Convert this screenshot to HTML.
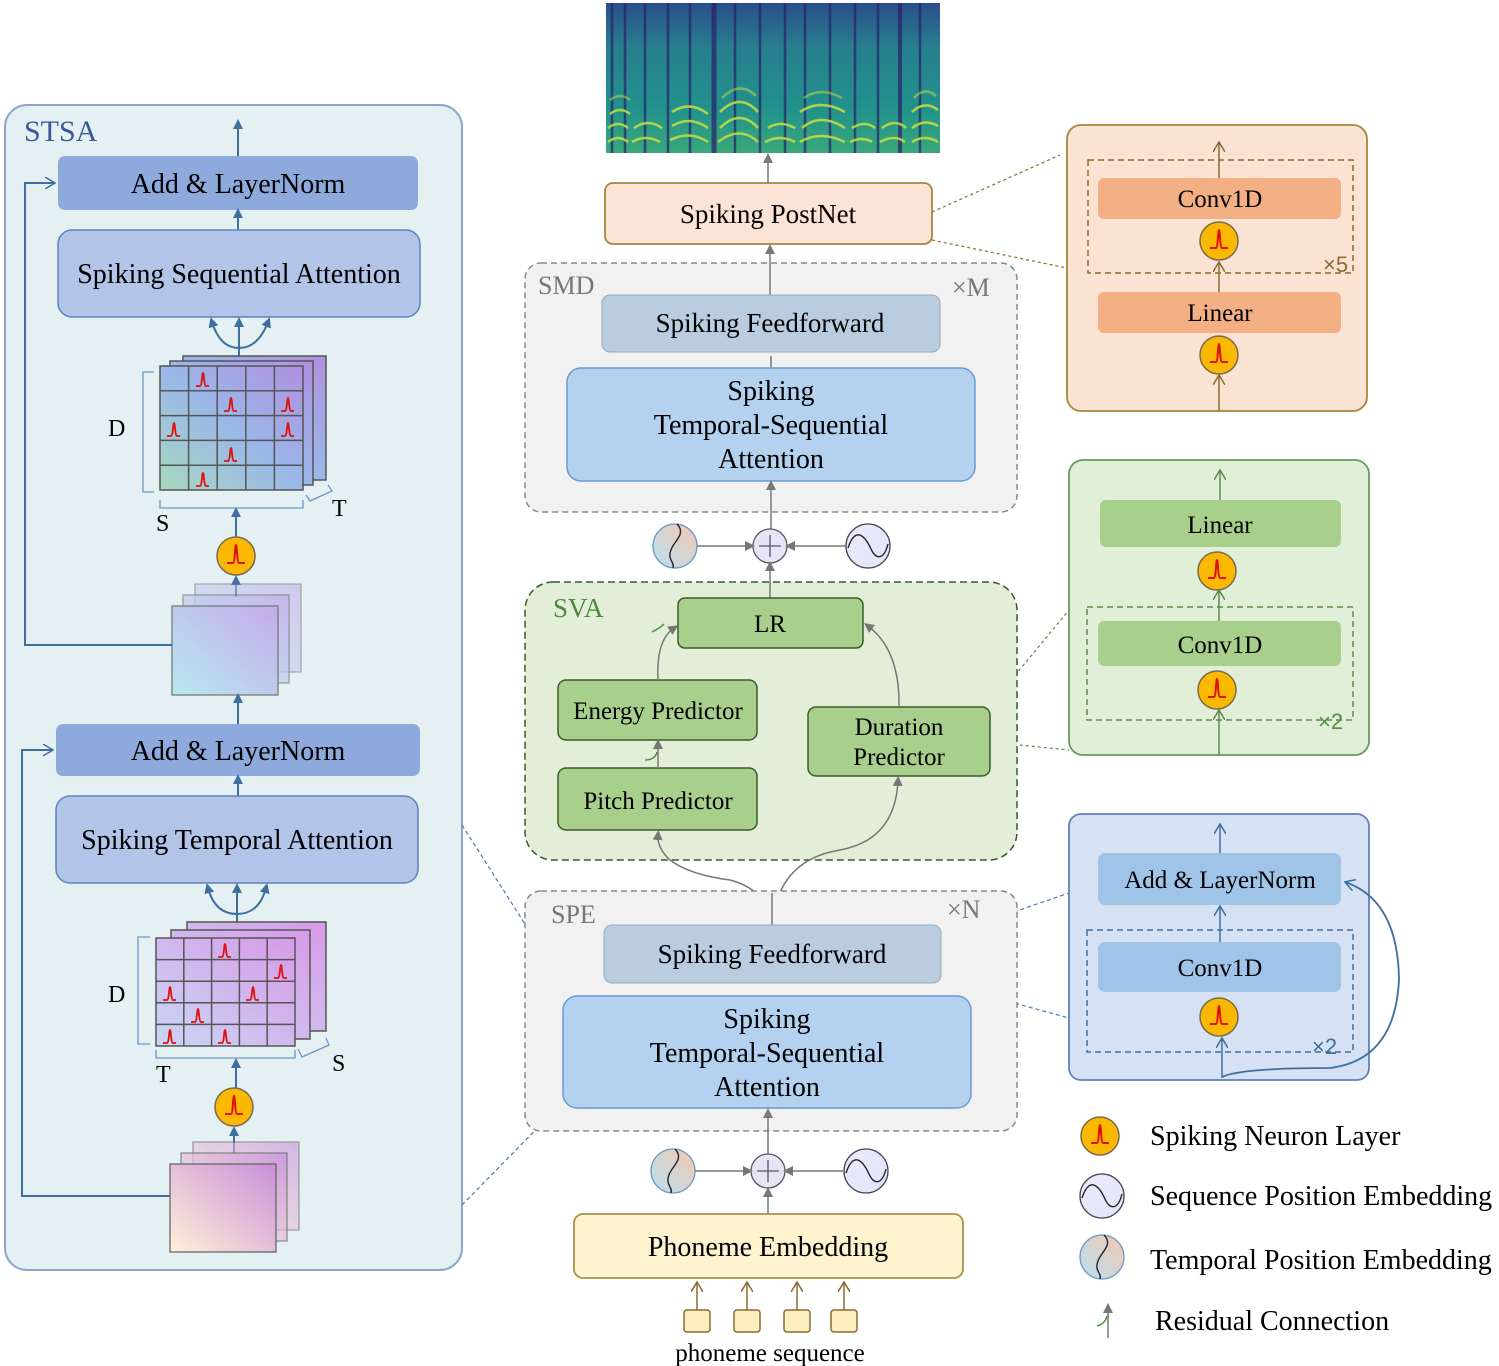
<!DOCTYPE html>
<html><head><meta charset="utf-8"><style>
html,body{margin:0;padding:0;background:#fff;}
svg{display:block;font-family:"Liberation Serif",serif;}
</style></head><body>
<svg width="1499" height="1366" viewBox="0 0 1499 1366" xmlns="http://www.w3.org/2000/svg">
<defs>
<marker id="ab" markerWidth="10" markerHeight="10" refX="5" refY="5" orient="auto" markerUnits="userSpaceOnUse"><path d="M0,0 L10,5 L0,10 z" fill="#3f6f9f"/></marker>
<marker id="ag" markerWidth="10" markerHeight="10" refX="5" refY="5" orient="auto" markerUnits="userSpaceOnUse"><path d="M0,0 L10,5 L0,10 z" fill="#777"/></marker>
<marker id="ao" markerWidth="12" markerHeight="12" refX="10" refY="6" orient="auto" markerUnits="userSpaceOnUse"><path d="M0,0 L10,6 L0,12" fill="none" stroke="#3f6f9f" stroke-width="1.5"/></marker>
<marker id="aob" markerWidth="12" markerHeight="12" refX="10" refY="6" orient="auto" markerUnits="userSpaceOnUse"><path d="M0,0 L10,6 L0,12" fill="none" stroke="#8a6a30" stroke-width="1.5"/></marker>
<marker id="aog" markerWidth="12" markerHeight="12" refX="10" refY="6" orient="auto" markerUnits="userSpaceOnUse"><path d="M0,0 L10,6 L0,12" fill="none" stroke="#5a8a4a" stroke-width="1.5"/></marker>
<linearGradient id="g1" x1="0" y1="1" x2="1" y2="0"><stop offset="0" stop-color="#a8d8c0"/><stop offset="0.5" stop-color="#9ab8e8"/><stop offset="1" stop-color="#b090e0"/></linearGradient>
<linearGradient id="g2" x1="0" y1="1" x2="1" y2="0"><stop offset="0" stop-color="#c8d8f4"/><stop offset="1" stop-color="#d89ae8"/></linearGradient>
<linearGradient id="s1" x1="0" y1="1" x2="1" y2="0"><stop offset="0" stop-color="#b0e8f0"/><stop offset="1" stop-color="#c0a0e8"/></linearGradient>
<linearGradient id="s2" x1="0" y1="1" x2="1" y2="0"><stop offset="0" stop-color="#fff0d8"/><stop offset="1" stop-color="#c890d8"/></linearGradient>
<linearGradient id="spec" x1="0" y1="0" x2="0" y2="1"><stop offset="0" stop-color="#2a4f8a"/><stop offset="0.3" stop-color="#277f8e"/><stop offset="0.7" stop-color="#21918c"/><stop offset="1" stop-color="#3aa87a"/></linearGradient>
<linearGradient id="tpe" x1="0" y1="1" x2="1" y2="0"><stop offset="0" stop-color="#b8e0f0"/><stop offset="1" stop-color="#f4c8b0"/></linearGradient>
<linearGradient id="spe" x1="0" y1="0" x2="1" y2="1"><stop offset="0" stop-color="#f0e8fa"/><stop offset="1" stop-color="#dce8f8"/></linearGradient>
<g id="sp"><circle r="19" fill="#fbb800" stroke="#7a6a50" stroke-width="1.5"/><path d="M-9,7 L-3,7 C-1,7 -1,-11 0,-11 C1,-11 1,7 3,7 L9,7" fill="none" stroke="#e01010" stroke-width="2"/></g>
<path id="rs" d="M-7,4 L-3,4 C-1,4 -1,-9 0,-9 C1,-9 1,4 3,4 L6,4" fill="none" stroke="#e01010" stroke-width="1.8"/>
<g id="spp"><circle r="22" fill="url(#spe)" stroke="#445" stroke-width="1.3"/><path d="M-20,2 C-12,-22 -2,-8 3,3 C8,14 16,14 20,-2" fill="none" stroke="#223" stroke-width="1.4"/></g>
<g id="tpp"><circle r="22" fill="url(#tpe)" stroke="#6a9ac8" stroke-width="1.3"/><path d="M2,-22 C12,-12 -2,-4 -4,4 C-8,14 0,16 -2,22" fill="none" stroke="#223" stroke-width="1.4"/></g>
<g id="plus"><circle r="17" fill="#e8e4f6" stroke="#556" stroke-width="1.3"/><path d="M-11,0 H11 M0,-11 V11" stroke="#556" stroke-width="1.3"/></g>
</defs>

<!-- LEFT PANEL -->
<rect x="5" y="105" width="457" height="1165" rx="22" fill="#e5f0f3" stroke="#8ca6c8" stroke-width="2"/>
<text x="24" y="141" font-size="30" fill="#3a5a9a">STSA</text>
<line x1="238" y1="156" x2="238" y2="124" stroke="#3f6f9f" stroke-width="2" marker-end="url(#ab)"/>
<rect x="58" y="156" width="360" height="54" rx="7" fill="#8eaadc"/>
<text x="238" y="193" font-size="28" text-anchor="middle">Add &amp; LayerNorm</text>
<line x1="238" y1="230" x2="238" y2="213" stroke="#3f6f9f" stroke-width="2" marker-end="url(#ab)"/>
<rect x="58" y="230" width="362" height="87" rx="14" fill="#b2c4e8" stroke="#5f82bc" stroke-width="1.5"/>
<text x="239" y="283" font-size="28" text-anchor="middle">Spiking Sequential Attention</text>
<g stroke="#3f6f9f" stroke-width="2" fill="none">
<line x1="239" y1="356" x2="239" y2="322" marker-end="url(#ab)"/>
<path d="M239,348 Q258,348 268,322" marker-end="url(#ab)"/>
<path d="M239,348 Q220,348 212,322" marker-end="url(#ab)"/>
</g>
<g stroke="#555" stroke-width="1.5">
<rect x="183" y="356" width="143" height="124" fill="url(#g1)"/>
<rect x="170" y="361" width="143" height="124" fill="url(#g1)"/>
<rect x="160" y="366" width="143" height="124" fill="url(#g1)"/>
<path d="M188.6,366V490M217.2,366V490M245.8,366V490M274.4,366V490M160,390.8H303M160,415.6H303M160,440.4H303M160,465.2H303" fill="none"/>
</g>
<use href="#rs" x="203" y="382"/><use href="#rs" x="231" y="407"/><use href="#rs" x="288" y="407"/><use href="#rs" x="174" y="432"/><use href="#rs" x="288" y="432"/><use href="#rs" x="231" y="457"/><use href="#rs" x="203" y="482"/>
<path d="M154,372 H143 V492 H154 M160,500 V508 H303 V500 M306,495 L310,501 L332,491 L328,485" fill="none" stroke="#6a98c8" stroke-width="1.3"/>
<text x="108" y="436" font-size="24">D</text>
<text x="156" y="531" font-size="24">S</text>
<text x="332" y="516" font-size="24">T</text>
<line x1="236" y1="537" x2="236" y2="512" stroke="#3f6f9f" stroke-width="2" marker-end="url(#ab)"/>
<use href="#sp" x="236" y="556"/>
<line x1="236" y1="597" x2="236" y2="580" stroke="#3f6f9f" stroke-width="2" marker-end="url(#ab)"/>
<g stroke="#666" stroke-width="1.3" opacity="0.85">
<rect x="195" y="584" width="106" height="88" fill="url(#s1)" opacity="0.6"/>
<rect x="183" y="595" width="106" height="88" fill="url(#s1)" opacity="0.7"/>
<rect x="172" y="606" width="106" height="89" fill="url(#s1)"/>
</g>
<path d="M172,645 H25 V183 H55" fill="none" stroke="#3f6f9f" stroke-width="2" marker-end="url(#ao)"/>
<line x1="238" y1="724" x2="238" y2="698" stroke="#3f6f9f" stroke-width="2" marker-end="url(#ab)"/>
<rect x="56" y="724" width="364" height="52" rx="7" fill="#8eaadc"/>
<text x="238" y="760" font-size="28" text-anchor="middle">Add &amp; LayerNorm</text>
<line x1="238" y1="796" x2="238" y2="779" stroke="#3f6f9f" stroke-width="2" marker-end="url(#ab)"/>
<rect x="56" y="796" width="362" height="87" rx="14" fill="#b2c4e8" stroke="#5f82bc" stroke-width="1.5"/>
<text x="237" y="849" font-size="28" text-anchor="middle">Spiking Temporal Attention</text>
<g stroke="#3f6f9f" stroke-width="2" fill="none">
<line x1="237" y1="922" x2="237" y2="888" marker-end="url(#ab)"/>
<path d="M237,914 Q215,914 208,888" marker-end="url(#ab)"/>
<path d="M237,914 Q259,914 266,888" marker-end="url(#ab)"/>
</g>
<g stroke="#555" stroke-width="1.5">
<rect x="187" y="922" width="139" height="109" fill="url(#g2)"/>
<rect x="171" y="930" width="139" height="109" fill="url(#g2)"/>
<rect x="156" y="938" width="139" height="108" fill="url(#g2)"/>
<path d="M183.8,938V1046M211.6,938V1046M239.4,938V1046M267.2,938V1046M156,959.6H295M156,981.2H295M156,1002.8H295M156,1024.4H295" fill="none"/>
</g>
<use href="#rs" x="225" y="953"/><use href="#rs" x="281" y="974"/><use href="#rs" x="170" y="996"/><use href="#rs" x="253" y="996"/><use href="#rs" x="198" y="1018"/><use href="#rs" x="170" y="1039"/><use href="#rs" x="225" y="1039"/>
<path d="M150,937 H138 V1044 H150 M156,1050 V1058 H295 V1050 M298,1049 L302,1057 L329,1045 L326,1038" fill="none" stroke="#6a98c8" stroke-width="1.3"/>
<text x="108" y="1002" font-size="24">D</text>
<text x="156" y="1082" font-size="24">T</text>
<text x="332" y="1071" font-size="24">S</text>
<line x1="236" y1="1088" x2="236" y2="1063" stroke="#3f6f9f" stroke-width="2" marker-end="url(#ab)"/>
<use href="#sp" x="234" y="1107"/>
<line x1="234" y1="1153" x2="234" y2="1131" stroke="#3f6f9f" stroke-width="2" marker-end="url(#ab)"/>
<g stroke="#666" stroke-width="1.3">
<rect x="193" y="1142" width="106" height="88" fill="url(#s2)" opacity="0.6"/>
<rect x="181" y="1153" width="106" height="88" fill="url(#s2)" opacity="0.7"/>
<rect x="170" y="1164" width="106" height="88" fill="url(#s2)"/>
</g>
<path d="M170,1196 H22 V750 H53" fill="none" stroke="#3f6f9f" stroke-width="2" marker-end="url(#ao)"/>

<g stroke="#4a78b0" stroke-width="1.2" stroke-dasharray="4,3" fill="none">
<line x1="462" y1="825" x2="572" y2="998"/>
<line x1="462" y1="1205" x2="565" y2="1100"/>
<line x1="941" y1="937" x2="1069" y2="893"/>
<line x1="941" y1="983" x2="1069" y2="1018"/>
</g>
<g stroke="#8a6a30" stroke-width="1.2" stroke-dasharray="3,3" fill="none">
<line x1="932" y1="212" x2="1060" y2="155"/>
<line x1="932" y1="240" x2="1067" y2="268"/>
</g>
<g stroke="#5a8a4a" stroke-width="1.2" stroke-dasharray="3,3" fill="none">
<line x1="988" y1="708" x2="1069" y2="610"/>
<line x1="990" y1="742" x2="1069" y2="750"/>
</g>

<!-- MIDDLE -->
<rect x="606" y="3" width="334" height="150" fill="url(#spec)"/>
<g stroke="#2a1f6a" stroke-width="2.5" opacity="0.7">
<line x1="612" y1="3" x2="612" y2="153"/><line x1="625" y1="3" x2="625" y2="153"/><line x1="645" y1="3" x2="645" y2="153"/><line x1="668" y1="3" x2="668" y2="153"/><line x1="690" y1="3" x2="690" y2="153"/><line x1="714" y1="3" x2="714" y2="153" stroke-width="5"/><line x1="735" y1="3" x2="735" y2="153"/><line x1="760" y1="3" x2="760" y2="153"/><line x1="785" y1="3" x2="785" y2="153"/><line x1="805" y1="3" x2="805" y2="153"/><line x1="830" y1="3" x2="830" y2="153"/><line x1="855" y1="3" x2="855" y2="153"/><line x1="878" y1="3" x2="878" y2="153"/><line x1="900" y1="3" x2="900" y2="153" stroke-width="4"/><line x1="920" y1="3" x2="920" y2="153"/>
</g>
<g stroke="#c8e040" stroke-width="2.5" fill="none" opacity="0.85">
<path d="M608,142 Q618,134 628,142 M632,142 Q645,134 660,142 M670,140 Q690,130 708,142 M718,142 Q740,125 758,142 M765,142 Q780,134 795,142 M800,142 Q820,130 845,142 M850,142 Q862,136 872,142 M880,142 Q895,134 905,142 M912,142 Q925,134 938,142"/>
<path d="M608,128 Q618,120 628,128 M634,128 Q648,118 662,128 M672,126 Q690,115 708,128 M720,128 Q740,108 758,128 M768,128 Q780,120 795,128 M802,128 Q820,112 845,128 M852,128 Q865,120 875,128 M882,128 Q895,118 906,128 M912,128 Q925,118 938,126"/>
<path d="M610,114 Q620,106 630,114 M672,112 Q690,100 708,114 M720,112 Q740,92 758,112 M800,112 Q820,98 845,112 M912,112 Q925,100 938,110"/>
<path d="M610,100 Q620,92 630,100 M722,98 Q740,80 756,96 M804,98 Q820,86 842,98 M914,98 Q925,86 936,96" opacity="0.6"/>
</g>
<line x1="768" y1="183" x2="768" y2="158" stroke="#777" stroke-width="1.5" marker-end="url(#ag)"/>
<rect x="605" y="183" width="327" height="61" rx="8" fill="#fbe3d6" stroke="#a88440" stroke-width="1.8"/>
<text x="768" y="223" font-size="27" text-anchor="middle">Spiking PostNet</text>

<rect x="525" y="263" width="492" height="249" rx="16" fill="#f1f1f1" stroke="#888" stroke-width="1.5" stroke-dasharray="6,4"/>
<text x="538" y="294" font-size="26" fill="#777">SMD</text>
<text x="952" y="296" font-size="26" fill="#777">×M</text>
<line x1="770" y1="295" x2="770" y2="249" stroke="#777" stroke-width="1.5" marker-end="url(#ag)"/>
<rect x="602" y="295" width="338" height="57" rx="8" fill="#b9cce0" stroke="#9ab" stroke-width="1"/>
<text x="770" y="332" font-size="27" text-anchor="middle">Spiking Feedforward</text>
<line x1="771" y1="368" x2="771" y2="356" stroke="#777" stroke-width="1.5"/>
<rect x="567" y="368" width="408" height="113" rx="14" fill="#b4d2ef" stroke="#6a9ad0" stroke-width="1.5"/>
<text x="771" y="400" font-size="28" text-anchor="middle">Spiking</text>
<text x="771" y="434" font-size="28" text-anchor="middle">Temporal-Sequential</text>
<text x="771" y="468" font-size="28" text-anchor="middle">Attention</text>
<line x1="771" y1="529" x2="771" y2="485" stroke="#777" stroke-width="1.5" marker-end="url(#ag)"/>
<use href="#tpp" x="675" y="546"/>
<use href="#plus" x="770" y="546"/>
<use href="#spp" x="868" y="546"/>
<line x1="697" y1="546" x2="750" y2="546" stroke="#777" stroke-width="1.5" marker-end="url(#ag)"/>
<line x1="846" y1="546" x2="790" y2="546" stroke="#777" stroke-width="1.5" marker-end="url(#ag)"/>

<rect x="525" y="582" width="492" height="278" rx="28" fill="#e2eed8" stroke="#3a5a2a" stroke-width="1.5" stroke-dasharray="7,4"/>
<text x="553" y="617" font-size="27" fill="#4a8a3a">SVA</text>
<line x1="770" y1="598" x2="770" y2="566" stroke="#777" stroke-width="1.5" marker-end="url(#ag)"/>
<rect x="678" y="598" width="185" height="50" rx="7" fill="#a8d08c" stroke="#3a5a2a" stroke-width="1.5"/>
<text x="770" y="632" font-size="25" text-anchor="middle">LR</text>
<rect x="558" y="680" width="199" height="60" rx="8" fill="#a8d08c" stroke="#3a5a2a" stroke-width="1.5"/>
<text x="658" y="719" font-size="25" text-anchor="middle">Energy Predictor</text>
<rect x="558" y="768" width="199" height="62" rx="8" fill="#a8d08c" stroke="#3a5a2a" stroke-width="1.5"/>
<text x="658" y="809" font-size="25" text-anchor="middle">Pitch Predictor</text>
<rect x="808" y="707" width="182" height="69" rx="8" fill="#a8d08c" stroke="#3a5a2a" stroke-width="1.5"/>
<text x="899" y="735" font-size="25" text-anchor="middle">Duration</text>
<text x="899" y="765" font-size="25" text-anchor="middle">Predictor</text>
<g stroke="#777" stroke-width="1.5" fill="none">
<path d="M658,768 V744" marker-end="url(#ag)"/>
<path d="M658,680 Q656,640 674,628" marker-end="url(#ag)"/>
<path d="M899,707 Q900,650 868,626" marker-end="url(#ag)"/>
<path d="M772,925 Q768,890 730,880 Q690,875 670,860 Q657,848 658,835" marker-end="url(#ag)"/>
<path d="M772,925 Q778,860 840,850 Q895,840 898,781" marker-end="url(#ag)"/>
</g>
<path d="M645,760 Q655,760 657,752 M652,632 Q660,628 664,624" fill="none" stroke="#4a8a3a" stroke-width="1.5"/>

<rect x="525" y="891" width="492" height="240" rx="16" fill="#f1f1f1" stroke="#888" stroke-width="1.5" stroke-dasharray="6,4"/>
<text x="551" y="923" font-size="26" fill="#777">SPE</text>
<text x="947" y="918" font-size="26" fill="#777">×N</text>
<line x1="772" y1="925" x2="772" y2="893" stroke="#777" stroke-width="1.5"/>
<rect x="604" y="925" width="337" height="58" rx="8" fill="#b9cce0" stroke="#9ab" stroke-width="1"/>
<text x="772" y="963" font-size="27" text-anchor="middle">Spiking Feedforward</text>
<rect x="563" y="996" width="408" height="112" rx="14" fill="#b4d2ef" stroke="#6a9ad0" stroke-width="1.5"/>
<text x="767" y="1028" font-size="28" text-anchor="middle">Spiking</text>
<text x="767" y="1062" font-size="28" text-anchor="middle">Temporal-Sequential</text>
<text x="767" y="1096" font-size="28" text-anchor="middle">Attention</text>
<line x1="768" y1="1154" x2="768" y2="1113" stroke="#777" stroke-width="1.5" marker-end="url(#ag)"/>
<use href="#tpp" x="673" y="1171"/>
<use href="#plus" x="768" y="1171"/>
<use href="#spp" x="866" y="1171"/>
<line x1="695" y1="1171" x2="748" y2="1171" stroke="#777" stroke-width="1.5" marker-end="url(#ag)"/>
<line x1="844" y1="1171" x2="788" y2="1171" stroke="#777" stroke-width="1.5" marker-end="url(#ag)"/>
<line x1="768" y1="1214" x2="768" y2="1192" stroke="#777" stroke-width="1.5" marker-end="url(#ag)"/>
<rect x="574" y="1214" width="389" height="64" rx="9" fill="#fdf3cf" stroke="#a89448" stroke-width="1.8"/>
<text x="768" y="1256" font-size="28" text-anchor="middle">Phoneme Embedding</text>
<g stroke="#8a6a30" stroke-width="1.5" fill="#fdf0c0">
<rect x="684" y="1310" width="26" height="22" rx="3"/><rect x="734" y="1310" width="26" height="22" rx="3"/><rect x="784" y="1310" width="26" height="22" rx="3"/><rect x="831" y="1310" width="26" height="22" rx="3"/>
<g fill="none" marker-end="url(#aob)"><line x1="697" y1="1310" x2="697" y2="1282"/><line x1="747" y1="1310" x2="747" y2="1282"/><line x1="797" y1="1310" x2="797" y2="1282"/><line x1="844" y1="1310" x2="844" y2="1282"/></g>
</g>
<text x="770" y="1361" font-size="25" text-anchor="middle">phoneme sequence</text>

<!-- RIGHT: PostNet detail -->
<rect x="1067" y="125" width="300" height="286" rx="14" fill="#fae3d3" stroke="#a8843a" stroke-width="1.8"/>
<rect x="1088" y="160" width="265" height="113" fill="none" stroke="#8a6a30" stroke-width="1.5" stroke-dasharray="6,4"/>
<line x1="1219" y1="178" x2="1219" y2="142" stroke="#8a6a30" stroke-width="1.5" marker-end="url(#aob)"/>
<rect x="1098" y="178" width="243" height="41" rx="6" fill="#f2b084"/>
<text x="1220" y="207" font-size="25" text-anchor="middle">Conv1D</text>
<use href="#sp" x="1219" y="241"/>
<line x1="1219" y1="292" x2="1219" y2="262" stroke="#8a6a30" stroke-width="1.5" marker-end="url(#aob)"/>
<rect x="1098" y="292" width="243" height="41" rx="6" fill="#f2b084"/>
<text x="1220" y="321" font-size="25" text-anchor="middle">Linear</text>
<use href="#sp" x="1219" y="355"/>
<line x1="1219" y1="411" x2="1219" y2="375" stroke="#8a6a30" stroke-width="1.5" marker-end="url(#aob)"/>
<text x="1323" y="272" font-size="22" fill="#8a6a30" font-family="Liberation Sans,sans-serif">×5</text>

<!-- RIGHT: Duration detail -->
<rect x="1069" y="460" width="300" height="295" rx="14" fill="#e2efd8" stroke="#6a9a5a" stroke-width="1.8"/>
<line x1="1220" y1="500" x2="1220" y2="470" stroke="#5a8a4a" stroke-width="1.5" marker-end="url(#aog)"/>
<rect x="1100" y="500" width="241" height="47" rx="6" fill="#a8d08c"/>
<text x="1220" y="533" font-size="25" text-anchor="middle">Linear</text>
<use href="#sp" x="1217" y="571"/>
<rect x="1087" y="607" width="266" height="113" fill="none" stroke="#5a8a4a" stroke-width="1.5" stroke-dasharray="6,4"/>
<line x1="1219" y1="621" x2="1219" y2="590" stroke="#5a8a4a" stroke-width="1.5" marker-end="url(#aog)"/>
<rect x="1098" y="621" width="243" height="45" rx="6" fill="#a8d08c"/>
<text x="1220" y="653" font-size="25" text-anchor="middle">Conv1D</text>
<use href="#sp" x="1217" y="690"/>
<line x1="1219" y1="755" x2="1219" y2="710" stroke="#5a8a4a" stroke-width="1.5" marker-end="url(#aog)"/>
<text x="1318" y="729" font-size="22" fill="#5a8a4a" font-family="Liberation Sans,sans-serif">×2</text>

<!-- RIGHT: FF detail -->
<rect x="1069" y="814" width="300" height="266" rx="12" fill="#d6e2f4" stroke="#5f82bc" stroke-width="1.8"/>
<line x1="1220" y1="853" x2="1220" y2="824" stroke="#3f6f9f" stroke-width="1.5" marker-end="url(#ao)"/>
<rect x="1098" y="853" width="243" height="52" rx="7" fill="#a0c4e8"/>
<text x="1220" y="888" font-size="25" text-anchor="middle">Add &amp; LayerNorm</text>
<rect x="1087" y="930" width="266" height="122" fill="none" stroke="#3f6f9f" stroke-width="1.5" stroke-dasharray="6,4"/>
<line x1="1220" y1="942" x2="1220" y2="906" stroke="#3f6f9f" stroke-width="1.5" marker-end="url(#ao)"/>
<rect x="1098" y="942" width="243" height="50" rx="7" fill="#a0c4e8"/>
<text x="1220" y="976" font-size="25" text-anchor="middle">Conv1D</text>
<use href="#sp" x="1219" y="1017"/>
<line x1="1222" y1="1078" x2="1222" y2="1038" stroke="#3f6f9f" stroke-width="1.5" marker-end="url(#ao)"/>
<path d="M1222,1077 Q1240,1068 1330,1068 Q1395,1060 1399,980 Q1398,900 1345,882" fill="none" stroke="#3f6f9f" stroke-width="1.8" marker-end="url(#ao)"/>
<text x="1312" y="1054" font-size="22" fill="#3f6f9f" font-family="Liberation Sans,sans-serif">×2</text>

<!-- LEGEND -->
<use href="#sp" x="1100" y="1136"/>
<text x="1150" y="1145" font-size="28">Spiking Neuron Layer</text>
<use href="#spp" x="1102" y="1196"/>
<text x="1150" y="1205" font-size="28">Sequence Position Embedding</text>
<use href="#tpp" x="1102" y="1257"/>
<text x="1150" y="1269" font-size="28">Temporal Position Embedding</text>
<line x1="1108" y1="1338" x2="1108" y2="1308" stroke="#777" stroke-width="1.5" marker-end="url(#ag)"/>
<path d="M1097,1326 Q1105,1324 1107,1316" fill="none" stroke="#4a8a3a" stroke-width="1.5"/>
<text x="1155" y="1330" font-size="28">Residual Connection</text>
</svg>
</body></html>
